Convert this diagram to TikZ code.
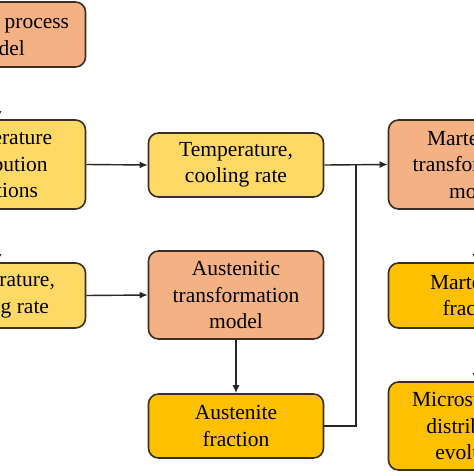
\documentclass[tikz,border=0pt]{standalone}
\usepackage{fontspec}
\setmainfont{Liberation Serif}
\usetikzlibrary{arrows.meta}
\definecolor{orangebox}{HTML}{F4B183}
\definecolor{yellowbox}{HTML}{FFD966}
\definecolor{goldbox}{HTML}{FFC000}
\definecolor{boxline}{HTML}{3B2E22}
\definecolor{arrowline}{HTML}{262626}
\tikzset{
  box/.style={draw=boxline, line width=1.6pt, rounded corners=10pt,
    minimum width=175pt, align=center, inner sep=0pt,
    font=\fontsize{21.5}{26.5}\selectfont, text=black},
  orangeb/.style={box, fill=orangebox},
  yellowb/.style={box, fill=yellowbox},
  goldb/.style={box, fill=goldbox},
  conn/.style={draw=arrowline, line width=1.4pt, -{Latex[length=8pt,width=7pt]}},
  plain/.style={draw=arrowline, line width=1.4pt}
}
\begin{document}
\begin{tikzpicture}[x=1pt,y=1pt]
\useasboundingbox (0,0) rectangle (474,-474);
\clip (0,0) rectangle (474,-474);
\fill[white] (0,0) rectangle (474,-474);
% left column
\node[orangeb, minimum height=65pt] (b1) at (-2,-34.5) {Welding process\\model};
\node[yellowb, minimum height=89pt] (b2) at (-2,-164.5) {Temperature\\distribution\\functions};
\node[yellowb, minimum height=65pt] (b3) at (-2,-295.5) {Temperature,\\cooling rate};
% middle column
\node[yellowb, minimum height=64pt] (c1) at (236,-165) {Temperature,\\cooling rate};
\node[orangeb, minimum height=88pt] (c2) at (236,-295) {Austenitic\\transformation\\model};
\node[goldb, minimum height=64pt] (c3) at (236,-426) {Austenite\\fraction};
% right column
\node[orangeb, minimum height=89pt] (r1) at (476,-164.5) {Martensitic\\transformation\\model};
\node[goldb, minimum height=65pt] (r2) at (476,-295.5) {Martensite\\fraction};
\node[goldb, minimum height=88pt] (r3) at (476,-426) {Microstructure\\distribution\\evolution};
\coordinate (j) at (356,-165);
% connectors
\draw[conn] (b1) -- (b2);
\draw[conn] (b2) -- (b3);
\draw[conn] (b2.east) -- (c1.west);
\draw[conn] (b3.east) -- (c2.west);
\draw[conn] (c2) -- (c3);
\draw[conn] (c1.east) -- (r1.west);
\draw[plain] (c3.east) -- (j |- c3.east) -- (j);
\draw[conn] (r1) -- (r2);
\draw[conn] (r2) -- (r3);
\end{tikzpicture}
\end{document}
